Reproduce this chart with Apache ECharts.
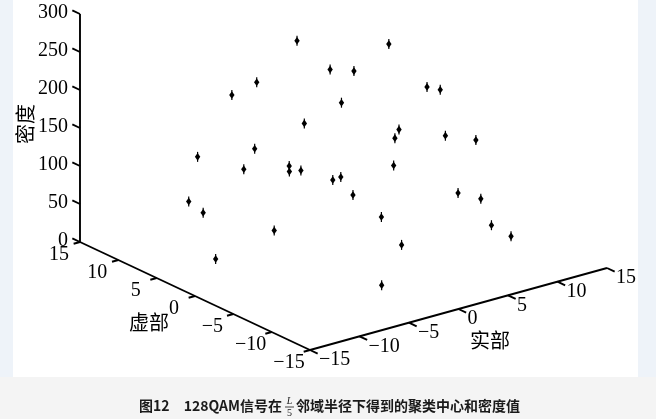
<!DOCTYPE html>
<html>
<head>
<meta charset="utf-8">
<script src="https://cdn.jsdelivr.net/npm/echarts@6/dist/echarts.min.js"></script>
<style>html,body{margin:0;padding:0;background:#fff;}#c{width:656px;height:419px;}</style>
</head>
<body>
<div id="c"></div>
<script>
// ---- data ----
const realTicks = [-15, -10, -5, 0, 5, 10, 15];
const imagTicks = [-15, -10, -5, 0, 5, 10, 15];
const densityTicks = [0, 50, 100, 150, 200, 250, 300];
const realVals = [-0.9, 5.2, -2.9, -1.5, -5.9, -5.7, -6.9, -9.9, -10.4, -11.0, -9.2, -8.1, -9.8, -13.0, -13.4, -11.8, -13.3, 4.1, 5.9, -4.0, -0.9, -1.7, 3.4, 7.1, -2.6, -7.2, -6.7, -6.4, 2.2, 4.5, -5.0, 4.8, 6.7, -4.2, -6.6];
const imagVals = [4.9, 0.8, -2.0, -3.3, 3.7, 7.2, -3.8, -1.2, 5.6, -1.2, -4.8, -3.4, -7.1, 3.4, 1.0, -6.2, -0.5, -5.6, -5.0, -4.9, -8.4, -8.9, -8.9, -8.1, -9.9, -7.9, -8.3, -9.5, -12.1, -12.1, -11.4, -13.1, -13.2, -13.0, -13.5];
const densityVals = [262, 255, 264, 263, 231, 197, 216, 181, 140, 158, 173, 155, 180, 101, 99, 104, 45, 233, 220, 238, 208, 202, 187, 164, 174, 162, 166, 147, 131, 115, 122, 84, 63, 90, 48];

// ---- oblique 3D axis frame (layout) ----
const realMin = -15, realMax = 15, imagMin = -15, imagMax = 15, zMin = 0, zMax = 300;
const ORIGIN = [310, 350];          // pixel of (real min, imag min, density 0)
const RVEC = [9.9, -2.733];          // pixels per real unit
const IVEC = [-7.667, -3.6];         // pixels per imag unit
const ZPX = 0.76;                    // pixels per density unit
function proj(r, i, z) {
  const u = r - realMin, v = i - imagMin;
  return [ORIGIN[0] + u * RVEC[0] + v * IVEC[0], ORIGIN[1] + u * RVEC[1] + v * IVEC[1] - (z - zMin) * ZPX];
}
const fmt = v => String(v).replace('-', '\u2212');
const numFont = '20px "Liberation Serif", "Times New Roman", serif';
const cjkFont = '20px "Noto Sans CJK SC", sans-serif';

const g = [];
// background pieces
g.push({type: 'rect', shape: {x: 0, y: 0, width: 13, height: 377}, style: {fill: '#eef3f9'}, silent: true});
g.push({type: 'rect', shape: {x: 638, y: 0, width: 18, height: 377}, style: {fill: '#eef3f9'}, silent: true});
g.push({type: 'rect', shape: {x: 0, y: 377, width: 656, height: 42}, style: {fill: '#f4f4f4'}, silent: true});

const axisStyle = {stroke: '#000', lineWidth: 1.9};
function line(p, q) { g.push({type: 'line', shape: {x1: p[0], y1: p[1], x2: q[0], y2: q[1]}, style: axisStyle, silent: true}); }

// density axis (at real min, imag max)
line(proj(realMin, imagMax, zMin), proj(realMin, imagMax, zMax));
densityTicks.forEach(t => {
  const p = proj(realMin, imagMax, t);
  line(p, [p[0] + IVEC[0], p[1] + IVEC[1]]);
  g.push({type: 'text', x: p[0] - 12, y: p[1] - 1, style: {text: fmt(t), font: numFont, fill: '#000', align: 'right', verticalAlign: 'middle'}, silent: true});
});
// imag axis (at real min)
line(proj(realMin, imagMin, 0), proj(realMin, imagMax, 0));
imagTicks.forEach(t => {
  const p = proj(realMin, t, 0);
  line(p, [p[0] - RVEC[0] * 0.64, p[1] - RVEC[1] * 0.64]);
  g.push({type: 'text', x: p[0] - 21, y: p[1] + 12.5, style: {text: fmt(t), font: numFont, fill: '#000', align: 'center', verticalAlign: 'middle'}, silent: true});
});
// real axis (at imag min)
line(proj(realMin, imagMin, 0), proj(realMax, imagMin, 0));
realTicks.forEach(t => {
  const p = proj(t, imagMin, 0);
  line(p, [p[0] - IVEC[0], p[1] - IVEC[1]]);
  g.push({type: 'text', x: p[0] + 9, y: p[1] + 10, style: {text: fmt(t), font: numFont, fill: '#000', align: 'left', verticalAlign: 'middle'}, silent: true});
});
// axis titles
g.push({type: 'text', x: 25, y: 124, rotation: Math.PI / 2, style: {text: '密度', font: cjkFont, fill: '#000', align: 'center', verticalAlign: 'middle'}, silent: true});
g.push({type: 'text', x: 149, y: 322, style: {text: '虚部', font: cjkFont, fill: '#000', align: 'center', verticalAlign: 'middle'}, silent: true});
g.push({type: 'text', x: 490, y: 340, style: {text: '实部', font: cjkFont, fill: '#000', align: 'center', verticalAlign: 'middle'}, silent: true});

// caption
const capFont = 'bold 14px "Noto Sans CJK SC", sans-serif';
g.push({type: 'text', x: 139, y: 406, style: {text: '图12', font: capFont, fill: '#1a1a1a', align: 'left', verticalAlign: 'middle'}, silent: true});
g.push({type: 'text', x: 282, y: 406, style: {text: '128QAM信号在', font: capFont, fill: '#1a1a1a', align: 'right', verticalAlign: 'middle'}, silent: true});
g.push({type: 'text', x: 289.5, y: 401, style: {text: 'L', font: 'italic 10px "Liberation Serif", serif', fill: '#1a1a1a', align: 'center', verticalAlign: 'middle'}, silent: true});
g.push({type: 'line', shape: {x1: 285, y1: 407, x2: 294, y2: 407}, style: {stroke: '#1a1a1a', lineWidth: 0.8}, silent: true});
g.push({type: 'text', x: 289.5, y: 413, style: {text: '5', font: '10px "Liberation Serif", serif', fill: '#1a1a1a', align: 'center', verticalAlign: 'middle'}, silent: true});
g.push({type: 'text', x: 296, y: 406, style: {text: '邻域半径下得到的聚类中心和密度值', font: capFont, fill: '#1a1a1a', align: 'left', verticalAlign: 'middle'}, silent: true});

const points = realVals.map((r, k) => [r, imagVals[k], densityVals[k]]);

const chart = echarts.init(document.getElementById('c'), null, {renderer: 'canvas'});
chart.setOption({
  animation: false,
  backgroundColor: '#fff',
  graphic: {elements: g},
  series: [{
    type: 'custom',
    coordinateSystem: 'none',
    data: points,
    z: 10,
    renderItem: function (params, api) {
      const p = proj(api.value(0), api.value(1), api.value(2));
      const x = p[0], y = p[1];
      return {
        type: 'group',
        children: [
          {type: 'polygon', shape: {points: [[x, y - 3.8], [x + 2.7, y], [x, y + 3.8], [x - 2.7, y]]}, style: {fill: '#000'}},
          {type: 'line', shape: {x1: x, y1: y - 5, x2: x, y2: y + 5}, style: {stroke: '#000', lineWidth: 1.2}}
        ]
      };
    }
  }]
});
</script>
</body>
</html>
